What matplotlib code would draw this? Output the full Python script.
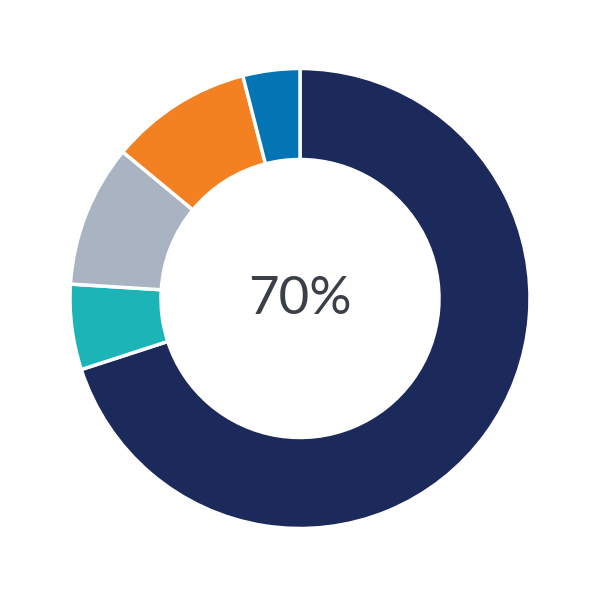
import matplotlib.pyplot as plt

# slice shares, clockwise from 12 o'clock
labels = ["navy", "teal", "gray", "orange", "blue"]
shares = [70, 6, 10, 10, 4]
colors = ["#1b2a5a", "#1cb5b7", "#a9b3c1", "#f38021", "#0375b5"]
center_text = "70%"

fig = plt.figure(figsize=(6, 5.99), dpi=100)
ax = fig.add_axes([0, 0, 1, 1])
ax.pie(shares, colors=colors, startangle=90, counterclock=False,
       radius=230, center=(300, 300.5),
       wedgeprops=dict(width=91, edgecolor="white", linewidth=2.5))
# baseline of the label sits a bit below the ring centre
ax.text(300, 285, center_text, ha="center", va="baseline",
        fontsize=38, color="#3b4048", family="Lato")
ax.set_xlim(0, 600)
ax.set_ylim(0, 599)
ax.set_aspect("equal")
ax.axis("off")
fig.savefig("out.png", dpi=100, facecolor="white")
